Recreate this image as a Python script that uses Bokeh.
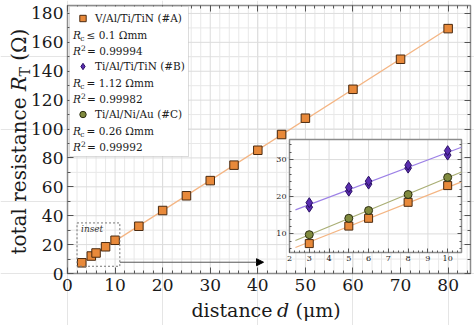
import numpy as np
from bokeh.plotting import figure
from bokeh.models import (Range1d, LinearAxis, FixedTicker, Label, BoxAnnotation,
                          Legend, LegendItem, Arrow, NormalHead)
from bokeh.core.properties import value
from bokeh.embed import file_html
from bokeh.resources import INLINE

# ---------------- data ----------------
distance = [3, 5, 6, 8, 10, 15, 20, 25, 30, 35, 40, 45, 50, 60, 70, 80]
r_A = [7.4, 12.1, 14.2, 18.5, 23.0, 32.7, 43.6, 53.8, 64.3, 75.0, 85.3, 96.2,
       107.5, 127.5, 148.3, 169.5]
inset_distance = [3, 5, 6, 8, 10]
r_A_inset = [7.4, 12.1, 14.2, 18.5, 23.0]
r_B_run1 = [17.2, 21.5, 23.4, 27.7, 31.2]
r_B_run2 = [18.4, 22.5, 24.2, 28.5, 32.4]
r_C = [9.8, 14.2, 16.3, 20.6, 25.2]

series_names = ["V/Al/Ti/TiN (#A)", "Ti/Al/Ti/TiN (#B)", "Ti/Al/Ni/Au (#C)"]
rc_text = ["≤ 0.1 Ωmm", "= 1.12 Ωmm", "= 0.26 Ωmm"]
r2_text = ["= 0.99994", "= 0.99982", "= 0.99992"]

x_ticks = [0, 10, 20, 30, 40, 50, 60, 70, 80]
x_minor_ticks = list(range(0, 86, 2))
y_ticks = [0, 20, 40, 60, 80, 100, 120, 140, 160, 180]
y_minor_ticks = list(range(0, 186, 10))
inset_x_ticks = [2, 3, 4, 5, 6, 7, 8, 9, 10]
inset_x_minor = [2 + 0.25 * k for k in range(35)]
inset_y_ticks = [10, 20, 30]
inset_y_minor = list(range(6, 36, 2))

# ---------------- layout / style ----------------
W, H = 474, 325
PL, PR, PT, PB = 67, 470, 5, 273          # plot box in pixels
X0, X1 = 0, 84.7
Y0, Y1 = 0, 185.5
INSET_PX = (289, 461, 139, 252)           # left, right, top, bottom
IX0, IX1 = 2, 10.7
IY0, IY1 = 5, 35.4
ZOOM_BOX = (2, 11, 5, 35)
ARROW = (11, 41.2, 7.8)
FONT = "DejaVu Serif"
BASE_K = 0.34      # correction so that "alphabetic" lands on the wanted baseline

ORANGE = "#e8893a"; ORANGE_EDGE = "#4a2a10"; ORANGE_LINE = "#f4b583"
PURPLE = "#5a2db0"; PURPLE_EDGE = "#2a1064"; PURPLE_LINE = "#9c80e6"
OLIVE = "#808a3e";  OLIVE_EDGE = "#2c2e12";  OLIVE_LINE = "#a9ae74"
GRID = "#dcdcdc"; GRID_MINOR = "#e8e8e8"; FRAME = "#8c8c8c"; TICK = "#555555"
TXT = "#1a1a1a"

# the Bokeh frame covers the whole canvas; the plot box is drawn inside it
sx = (PR - PL) / (X1 - X0)
sy = (PB - PT) / (Y1 - Y0)
FX0, FX1 = X0 - PL / sx, X1 + (W - PR) / sx
FY0, FY1 = Y0 - (H - PB) / sy, Y1 + PT / sy


def px2x(px):
    return FX0 + px / sx


def px2y(py):
    return FY1 - py / sy


p = figure(width=W, height=H, x_range=Range1d(FX0, FX1), y_range=Range1d(FY0, FY1),
           x_axis_location=None, y_axis_location=None, min_border=0,
           output_backend="svg", toolbar_location=None)
p.outline_line_color = None
p.background_fill_color = "white"
p.border_fill_color = "white"

isx = (INSET_PX[1] - INSET_PX[0]) / (IX1 - IX0)
isy = (INSET_PX[3] - INSET_PX[2]) / (IY1 - IY0)
p.extra_x_ranges = {"ix": Range1d(IX0 - INSET_PX[0] / isx, IX1 + (W - INSET_PX[1]) / isx)}
p.extra_y_ranges = {"iy": Range1d(IY0 - (H - INSET_PX[3]) / isy, IY1 + INSET_PX[2] / isy)}

# ---------------- main grid + box ----------------
vx_minor = [v for v in x_minor_ticks if v not in x_ticks]
hy_minor = [v for v in y_minor_ticks if v not in y_ticks]
p.segment(x0=vx_minor, x1=vx_minor, y0=[Y0] * len(vx_minor), y1=[Y1] * len(vx_minor),
          line_color=GRID_MINOR, line_width=1)
p.segment(x0=[X0] * len(hy_minor), x1=[X1] * len(hy_minor), y0=hy_minor, y1=hy_minor,
          line_color=GRID_MINOR, line_width=1)
p.segment(x0=x_ticks, x1=x_ticks, y0=[Y0] * len(x_ticks), y1=[Y1] * len(x_ticks),
          line_color=GRID, line_width=1)
p.segment(x0=[X0] * len(y_ticks), x1=[X1] * len(y_ticks), y0=y_ticks, y1=y_ticks,
          line_color=GRID, line_width=1)
p.quad(left=[X0], right=[X1], bottom=[Y0], top=[Y1], fill_color=None,
       line_color=FRAME, line_width=1.5)

xt = FixedTicker(ticks=x_ticks, minor_ticks=x_minor_ticks)
yt = FixedTicker(ticks=y_ticks, minor_ticks=y_minor_ticks)


def make_axis(side, ticker, loc, bounds, labels, font_size, standoff, tin, tmin,
              **kw):
    a = LinearAxis(ticker=ticker, fixed_location=loc, bounds=bounds, **kw)
    a.axis_line_color = None
    a.major_tick_in = tin; a.major_tick_out = 0
    a.minor_tick_in = tmin; a.minor_tick_out = 0
    a.major_tick_line_color = TICK; a.minor_tick_line_color = TICK
    if labels:
        a.major_label_text_font = FONT
        a.major_label_text_font_size = font_size
        a.major_label_text_color = TXT
        a.major_label_standoff = standoff
    else:
        a.major_label_text_font_size = "1px"
        a.major_label_text_color = None
        a.major_label_standoff = 0
    p.add_layout(a, side)


make_axis("left", yt, X0, (Y0, Y1), True, "17px", 4, 6, 3)
make_axis("below", xt, Y0, (X0, X1), True, "17px", 5, 6, 3)
make_axis("right", yt, X1, (Y0, Y1), False, None, 0, 6, 3)
make_axis("above", xt, Y1, (X0, X1), False, None, 0, 6, 3)


def text_at(px, py, text, size, style="normal", align="left", angle=0.0, color=TXT):
    """Place text with its alphabetic baseline at pixel (px, py)."""
    off = BASE_K * size
    if angle:
        px -= off
    else:
        py -= off
    p.add_layout(Label(x=px2x(px), y=px2y(py), text=text, text_font=FONT,
                       text_font_size=f"{size}px", text_font_style=style,
                       text_color=color, text_align=align, text_baseline="alphabetic",
                       angle=angle))


# ---------------- main plot ----------------
coefA = np.polyfit(distance, r_A, 1)
main_fit_x = np.array([2.3, 81.0])
p.line(main_fit_x, np.polyval(coefA, main_fit_x), line_color=ORANGE_LINE, line_width=1.3)
rA = p.scatter(distance, r_A, marker="square", size=8.5, fill_color=ORANGE,
               line_color=ORANGE_EDGE, line_width=1)

# zoom box + arrow
p.quad(left=[ZOOM_BOX[0]], right=[ZOOM_BOX[1]], bottom=[ZOOM_BOX[2]], top=[ZOOM_BOX[3]],
       fill_color=None, line_color="#777777", line_width=1, line_dash="2 2")
p.add_layout(Arrow(end=NormalHead(size=7, fill_color="black", line_color="black"),
                   x_start=ARROW[0], x_end=ARROW[1], y_start=ARROW[2], y_end=ARROW[2],
                   line_color="#555555", line_width=1))
text_at(80.5, 232, "inset", 9, style="italic", color="#333333")

# ---------------- inset ----------------
IR = dict(x_range_name="ix", y_range_name="iy")
p.quad(left=[IX0], right=[IX1], bottom=[IY0], top=[IY1],
       fill_color="white", line_color=None, **IR)
p.segment(x0=inset_x_ticks, x1=inset_x_ticks, y0=[IY0] * len(inset_x_ticks),
          y1=[IY1] * len(inset_x_ticks), line_color=GRID, line_width=1, **IR)
p.segment(x0=[IX0] * len(inset_y_ticks), x1=[IX1] * len(inset_y_ticks),
          y0=inset_y_ticks, y1=inset_y_ticks, line_color=GRID, line_width=1, **IR)
p.quad(left=[IX0], right=[IX1], bottom=[IY0], top=[IY1],
       fill_color=None, line_color=FRAME, line_width=1.5, **IR)

fit_x = np.array([2.3, IX1])
b_x = inset_distance + inset_distance
b_y = r_B_run1 + r_B_run2
coefB = np.polyfit(b_x, b_y, 1)
coefC = np.polyfit(inset_distance, r_C, 1)
p.line(fit_x, np.polyval(coefA, fit_x), line_color=ORANGE_LINE, line_width=1.2, **IR)
p.line(fit_x, np.polyval(coefC, fit_x), line_color=OLIVE_LINE, line_width=1.2, **IR)
p.line(fit_x, np.polyval(coefB, fit_x), line_color=PURPLE_LINE, line_width=1.2, **IR)
p.scatter(inset_distance, r_A_inset, marker="square", size=8, fill_color=ORANGE,
          line_color=ORANGE_EDGE, line_width=1, **IR)
rC = p.scatter(inset_distance, r_C, marker="circle", size=8, fill_color=OLIVE,
               line_color=OLIVE_EDGE, line_width=1, **IR)
rB = p.scatter(b_x, b_y, marker="diamond", size=10, fill_color=PURPLE,
               line_color=PURPLE_EDGE, line_width=1, **IR)

ixt = FixedTicker(ticks=inset_x_ticks, minor_ticks=inset_x_minor)
iyt = FixedTicker(ticks=inset_y_ticks, minor_ticks=inset_y_minor)
make_axis("below", ixt, IY0, (IX0, IX1), True, "8px", 3, 4, 2, **IR)
make_axis("left", iyt, IX0, (IY0, IY1), True, "8px", 3, 4, 2, **IR)
make_axis("right", iyt, IX1, (IY0, IY1), False, None, 0, 4, 2, **IR)

# ---------------- legend ----------------
LEG_LEFT, LEG_TOP = 72, 10
p.add_layout(BoxAnnotation(left=px2x(69), right=px2x(188), top=px2y(6), bottom=px2y(156),
                           fill_color="white", fill_alpha=1, line_color="#8a8a8a",
                           line_width=1))
LEG_H = 3 * 16 + 2 * 32
legend = Legend(items=[LegendItem(label=value(series_names[0]), renderers=[rA]),
                       LegendItem(label=value(series_names[1]), renderers=[rB]),
                       LegendItem(label=value(series_names[2]), renderers=[rC])],
                location=(LEG_LEFT, H - LEG_TOP - LEG_H), margin=0, padding=0, spacing=32,
                label_height=16, glyph_height=16, glyph_width=21, label_standoff=2,
                label_text_font=FONT, label_text_font_size="10.5px",
                label_text_color=TXT, background_fill_alpha=0, border_line_color=None)
p.add_layout(legend)

row0 = 18
for i in range(3):
    yc_rc = row0 + 16 * (3 * i + 1)
    yc_r2 = row0 + 16 * (3 * i + 2)
    text_at(72.5, yc_rc + 3.8, "R", 10.5, style="italic")
    text_at(79.8, yc_rc + 6.2, "c", 7.5)
    text_at(86, yc_rc + 3.8, rc_text[i], 10.5)
    text_at(72.5, yc_r2 + 3.8, "R", 10.5, style="italic")
    text_at(80.5, yc_r2 - 0.3, "2", 7.5)
    text_at(86.5, yc_r2 + 3.8, r2_text[i], 10.5)

# ---------------- axis titles ----------------
# x title: "distance d (μm)"
text_at(272, 316, "distance", 19, align="right")
text_at(276.5, 316, "d", 19, style="italic")
text_at(295, 316, "(μm)", 19)

# y title: "total resistance R_T (Ω)" (rotated, reading upward)
A90 = np.pi / 2
text_at(25, 254, "total resistance", 20, angle=A90)
text_at(25, 90.7, "R", 20, style="italic", angle=A90)
text_at(29, 76.1, "T", 14, angle=A90)
text_at(25, 60.3, "(Ω)", 20, angle=A90)

open("out.html", "w").write(file_html(p, INLINE))
